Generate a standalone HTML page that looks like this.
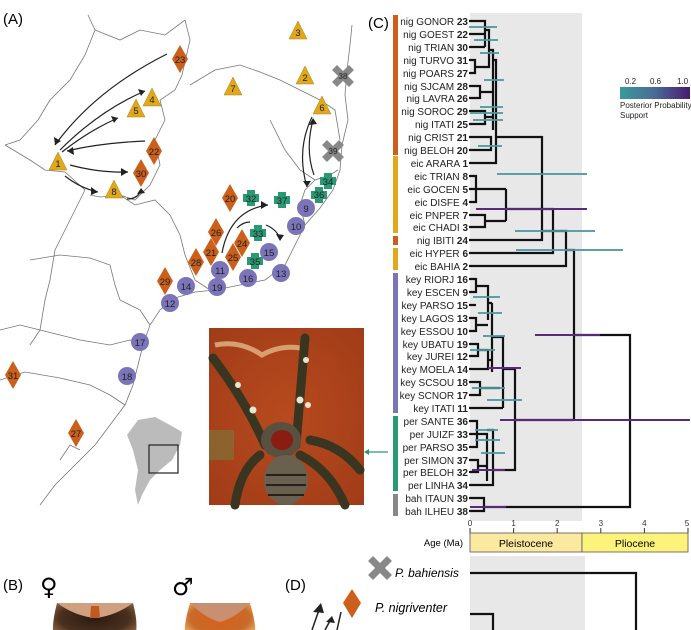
<!DOCTYPE html>
<html><head><meta charset="utf-8"><style>
body{margin:0;background:#fff}
svg{display:block;font-family:"Liberation Sans",sans-serif}
</style></head><body>
<svg width="691" height="630" viewBox="0 0 691 630" xmlns="http://www.w3.org/2000/svg">
<defs>
<linearGradient id="pp" x1="0" x2="1"><stop offset="0" stop-color="#3a9a9c"/><stop offset="0.5" stop-color="#4a6a96"/><stop offset="1" stop-color="#4a1a70"/></linearGradient>
<radialGradient id="fem" cx="0.5" cy="0.4" r="0.6"><stop offset="0" stop-color="#2a1a10"/><stop offset="0.7" stop-color="#4a3020"/><stop offset="1" stop-color="#8a6040"/></radialGradient>
<radialGradient id="mal" cx="0.5" cy="0.4" r="0.6"><stop offset="0" stop-color="#d8601a"/><stop offset="0.7" stop-color="#c86a2a"/><stop offset="1" stop-color="#e8a860"/></radialGradient>
<radialGradient id="soil" cx="0.5" cy="0.5" r="0.7"><stop offset="0" stop-color="#b84a1e"/><stop offset="1" stop-color="#a03c18"/></radialGradient>
</defs>

<!-- MAP -->
<text x="3" y="24" font-size="15">(A)</text>
<g fill="none" stroke="#777" stroke-width="0.8">
<path d="M352,25 L350,45 L347,70 L345,95 L348,120 L342,145 L340,170 L333,190 L320,208 L305,225 L295,245 L285,265 L265,280 L240,285 L215,290 L195,292 L175,298 L160,310 L150,325 L143,345 L138,365 L133,385 L125,405 L110,425 L95,445 L75,465 L55,485 L40,505"/>
<path d="M88,15 L95,30 L85,55 L70,80 L50,100 L38,120 L20,140 L5,145"/>
<path d="M95,30 L120,40 L140,30 L165,35 L185,20 L190,40 L182,75 L175,90 L160,100 L165,120 L155,140 L160,165 L150,185 L135,200 L120,195 L100,197 L90,195"/>
<path d="M5,145 L30,160 L45,170 L65,172 L85,190 L75,210 L65,230 L55,250 L50,280 L45,300 L40,330 L30,345"/>
<path d="M190,85 L215,70 L240,65 L260,72 L280,80 L300,90 L320,100 L335,110 L340,140"/>
<path d="M120,195 L135,205 L155,200 L170,215 L180,235 L185,255 L195,280 L210,290"/>
<path d="M30,260 L60,255 L90,258 L110,265 L115,285 L120,300 L140,310 L150,325"/>
<path d="M0,330 L20,325 L40,330 L60,335 L80,340 L110,345 L130,340 L140,345"/>
<path d="M0,380 L25,372 L60,378 L90,385 L110,395 L125,405"/>
<path d="M305,225 L300,205 L305,190 L315,180 L330,175 L338,170"/>
<path d="M270,120 L285,150 L300,170 L315,180"/>
<path d="M60,460 L70,445 L80,450"/>
</g>
<path d="M138,420 L155,417 L170,425 L182,432 L180,445 L172,460 L160,470 L150,480 L142,495 L138,505 L135,490 L138,470 L133,450 L127,435 Z" fill="#bbb"/>
<rect x="149" y="445" width="29" height="28" fill="none" stroke="#222" stroke-width="1.2"/>

<g fill="none" stroke="#222" stroke-width="1.2">
<path d="M167,54 Q95,90 55,145"/>
<path d="M60,150 Q100,110 145,91"/>
<path d="M62,152 Q90,130 118,118"/>
<path d="M145,141 Q100,143 67,151"/>
<path d="M70,165 Q100,173 128,172"/>
<path d="M65,176 Q80,188 98,192"/>
<path d="M127,199 Q138,199 141,190"/>
<path d="M312,117 Q296,150 307,187"/>
<path d="M313,120 Q305,150 314,175"/>
<path d="M222,253 Q230,210 268,205"/>
<path d="M237,228 Q243,222 250,222"/>
<path d="M266,225 Q278,230 280,240"/>
</g>
<g fill="#222">
<polygon points="55,145 54,137 61,141"/><polygon points="145,91 138,89 141,96"/><polygon points="118,118 111,116 114,123"/>
<polygon points="67,151 73,147 74,155"/><polygon points="128,172 121,168 121,176"/><polygon points="98,192 91,187 91,195"/>
<polygon points="141,188 137,194 145,193"/><polygon points="307,187 303,181 311,181"/><polygon points="313,118 309,125 317,124"/>
<polygon points="268,205 261,201 261,209"/><polygon points="280,241 276,234 284,235"/>
</g>

<g font-size="9.5" text-anchor="middle" fill="#222">
<g fill="#e0a81c" stroke="#b08010" stroke-width="0.5">
<polygon points="298,21 289,39 307,39"/><polygon points="305,66 296,84 314,84"/><polygon points="233,77 224,95 242,95"/>
<polygon points="152,88 143,106 161,106"/><polygon points="136,99 127,117 145,117"/><polygon points="322,96 313,114 331,114"/>
<polygon points="58,152 49,170 67,170"/><polygon points="114,180 105,198 123,198"/>
</g>
<text x="298" y="36">3</text><text x="305" y="81">2</text><text x="233" y="92">7</text><text x="152" y="103">4</text><text x="136" y="114">5</text><text x="322" y="111">6</text><text x="58" y="167">1</text><text x="114" y="195">8</text>
<g fill="#cc5f1a">
<polygon points="180,45 188,59 180,73 172,59"/><polygon points="154,137 162,151 154,165 146,151"/><polygon points="141,159 149,173 141,187 133,173"/>
<polygon points="230,184 238,198 230,212 222,198"/><polygon points="216,218 224,232 216,246 208,232"/><polygon points="211,238 219,252 211,266 203,252"/>
<polygon points="242,229 250,243 242,257 234,243"/><polygon points="233,243 241,257 233,271 225,257"/><polygon points="196,248 204,262 196,276 188,262"/>
<polygon points="165,267 173,281 165,295 157,281"/><polygon points="13,361 21,375 13,389 5,375"/><polygon points="76,419 84,433 76,447 68,433"/>
</g>
<text x="180" y="63">23</text><text x="154" y="155">22</text><text x="141" y="177">30</text><text x="230" y="202">20</text><text x="216" y="236">26</text><text x="211" y="256">21</text><text x="242" y="247">24</text><text x="233" y="261">25</text><text x="196" y="266">28</text><text x="165" y="285">29</text><text x="13" y="379">31</text><text x="76" y="437">27</text>
<g fill="#2a9a74">
<path d="M324,174h8v4h4v8h-4v4h-8v-4h-4v-8h4z" transform="translate(0,-1)"/>
<path d="M315,187h8v4h4v8h-4v4h-8v-4h-4v-8h4z"/>
<path d="M247,190h8v4h4v8h-4v4h-8v-4h-4v-8h4z"/>
<path d="M278,192h8v4h4v8h-4v4h-8v-4h-4v-8h4z"/>
<path d="M254,225h8v4h4v8h-4v4h-8v-4h-4v-8h4z"/>
<path d="M251,253h8v4h4v8h-4v4h-8v-4h-4v-8h4z"/>
</g>
<text x="328" y="185">34</text><text x="319" y="198">36</text><text x="251" y="202">32</text><text x="282" y="204">37</text><text x="258" y="237">33</text><text x="255" y="265">35</text>
<g fill="#7b74b8">
<circle cx="306" cy="208" r="9"/><circle cx="296" cy="226" r="9"/><circle cx="269" cy="252" r="9"/><circle cx="220" cy="270" r="9"/>
<circle cx="248" cy="278" r="9"/><circle cx="281" cy="273" r="9"/><circle cx="217" cy="287" r="9"/><circle cx="186" cy="286" r="9"/>
<circle cx="170" cy="303" r="9"/><circle cx="140" cy="342" r="9"/><circle cx="127" cy="376" r="9"/>
</g>
<text x="306" y="212">9</text><text x="296" y="230">10</text><text x="269" y="256">15</text><text x="220" y="274">11</text><text x="248" y="282">16</text><text x="281" y="277">13</text><text x="217" y="291">19</text><text x="186" y="290">14</text><text x="170" y="307">12</text><text x="140" y="346">17</text><text x="127" y="380">18</text>
<g stroke="#888" stroke-width="7" stroke-linecap="square"><path d="M337,70l12,12M349,70l-12,12M327,145l12,12M339,145l-12,12"/></g>
<text x="343" y="79" font-size="8">38</text><text x="333" y="154" font-size="8">39</text>
</g>

<!-- photo -->
<rect x="209" y="328" width="155" height="177" fill="url(#soil)"/>
<path d="M215,345 Q240,340 262,355 Q280,345 300,348" stroke="#d8a070" stroke-width="5" fill="none"/>
<rect x="209" y="430" width="25" height="30" fill="#7a7a3a" opacity="0.6"/>
<g stroke="#3a3520" stroke-width="9" fill="none" stroke-linecap="round">
<path d="M213,358 Q245,400 265,445"/><path d="M305,338 Q300,400 296,445"/>
<path d="M260,455 Q240,470 235,505"/><path d="M300,455 Q330,470 345,505"/><path d="M310,440 Q340,445 360,470"/>
</g>
<g fill="#e8e6d0"><circle cx="238" cy="385" r="3"/><circle cx="253" cy="410" r="3.5"/><circle cx="306" cy="360" r="3"/><circle cx="300" cy="400" r="3.5"/><circle cx="308" cy="405" r="3"/></g>
<ellipse cx="281" cy="440" rx="20" ry="18" fill="#5a5040"/>
<ellipse cx="282" cy="440" rx="11" ry="10" fill="#8a1c10"/>
<ellipse cx="286" cy="480" rx="22" ry="25" fill="#6a6050"/>
<path d="M266,475h40M266,485h40M268,495h36" stroke="#2a2018" stroke-width="2"/>
<path d="M388,452H366" stroke="#2a9a74" stroke-width="1.2"/><polygon points="364,452 369,449 369,455" fill="#2a9a74"/>

<!-- TREE -->
<rect x="470" y="13" width="112" height="508" fill="#e8e8e8"/>
<rect x="470" y="556" width="115" height="74" fill="#e8e8e8"/>
<text x="368" y="28" font-size="15">(C)</text>
<g>
<rect x="393" y="15" width="5" height="140" fill="#cc5f1a"/>
<rect x="393" y="156" width="5" height="77" fill="#e0a81c"/>
<rect x="393" y="236" width="5" height="9" fill="#cc5f1a"/>
<rect x="393" y="248" width="5" height="22" fill="#e0a81c"/>
<rect x="393" y="273" width="5" height="140" fill="#7b74b8"/>
<rect x="393" y="416" width="5" height="75" fill="#2a9a74"/>
<rect x="393" y="494" width="5" height="22" fill="#888"/>
</g>
<g font-size="10" text-anchor="end" fill="#222">
<text x="468" y="25">nig GONOR <tspan font-weight="bold">23</tspan></text>
<text x="468" y="38">nig GOEST <tspan font-weight="bold">22</tspan></text>
<text x="468" y="51">nig TRIAN <tspan font-weight="bold">30</tspan></text>
<text x="468" y="64">nig TURVO <tspan font-weight="bold">31</tspan></text>
<text x="468" y="77">nig POARS <tspan font-weight="bold">27</tspan></text>
<text x="468" y="90">nig SJCAM <tspan font-weight="bold">28</tspan></text>
<text x="468" y="102">nig LAVRA <tspan font-weight="bold">26</tspan></text>
<text x="468" y="115">nig SOROC <tspan font-weight="bold">29</tspan></text>
<text x="468" y="128">nig ITATI <tspan font-weight="bold">25</tspan></text>
<text x="468" y="141">nig CRIST <tspan font-weight="bold">21</tspan></text>
<text x="468" y="154">nig BELOH <tspan font-weight="bold">20</tspan></text>
<text x="468" y="167">eic ARARA <tspan font-weight="bold">1</tspan></text>
<text x="468" y="180">eic TRIAN <tspan font-weight="bold">8</tspan></text>
<text x="468" y="193">eic GOCEN <tspan font-weight="bold">5</tspan></text>
<text x="468" y="206">eic DISFE <tspan font-weight="bold">4</tspan></text>
<text x="468" y="219">eic PNPER <tspan font-weight="bold">7</tspan></text>
<text x="468" y="231">eic CHADI <tspan font-weight="bold">3</tspan></text>
<text x="468" y="244">nig IBITI <tspan font-weight="bold">24</tspan></text>
<text x="468" y="257">eic HYPER <tspan font-weight="bold">6</tspan></text>
<text x="468" y="270">eic BAHIA <tspan font-weight="bold">2</tspan></text>
<text x="468" y="283">key RIORJ <tspan font-weight="bold">16</tspan></text>
<text x="468" y="296">key ESCEN <tspan font-weight="bold">9</tspan></text>
<text x="468" y="309">key PARSO <tspan font-weight="bold">15</tspan></text>
<text x="468" y="322">key LAGOS <tspan font-weight="bold">13</tspan></text>
<text x="468" y="335">key ESSOU <tspan font-weight="bold">10</tspan></text>
<text x="468" y="348">key UBATU <tspan font-weight="bold">19</tspan></text>
<text x="468" y="360">key JUREI  <tspan font-weight="bold">12</tspan></text>
<text x="468" y="373">key MOELA <tspan font-weight="bold">14</tspan></text>
<text x="468" y="386">key SCSOU <tspan font-weight="bold">18</tspan></text>
<text x="468" y="399">key SCNOR <tspan font-weight="bold">17</tspan></text>
<text x="468" y="412">key ITATI  <tspan font-weight="bold">11</tspan></text>
<text x="468" y="425">per SANTE <tspan font-weight="bold">36</tspan></text>
<text x="468" y="438">per JUIZF <tspan font-weight="bold">33</tspan></text>
<text x="468" y="451">per PARSO <tspan font-weight="bold">35</tspan></text>
<text x="468" y="464">per SIMON <tspan font-weight="bold">37</tspan></text>
<text x="468" y="476">per BELOH <tspan font-weight="bold">32</tspan></text>
<text x="468" y="489">per LINHA <tspan font-weight="bold">34</tspan></text>
<text x="468" y="502">bah ITAUN <tspan font-weight="bold">39</tspan></text>
<text x="468" y="515">bah ILHEU <tspan font-weight="bold">38</tspan></text>
</g>
<g fill="none" stroke="#111" stroke-width="2.2">
<path d="M469,21H485V47M469,34H485M469,47H485M469,60H475V73H469M475,67H489V30H485"/>
<path d="M469,86H480V98H469M480,92H492M469,111H485V124H469M485,117H492M469,137H491V150H469"/>
<path d="M489,50H493V130M492,92H493M469,163H496V60H493"/>
<path d="M496,137H542V240H469"/>
<path d="M469,176H476V202H469M469,189H476M476,189H506M469,215H485V227H469M485,221H506M506,189V221M506,209H553V253H469"/>
<path d="M542,231H566V266H469M566,250H574V420"/>
<path d="M469,279H476V292H469M469,305H476M476,286H488V320M469,318H476V331H469M476,325H488M488,303H492"/>
<path d="M469,344H478V356H469M478,350H488V369H469M492,303V372M488,360H492"/>
<path d="M469,382H480V395H469M480,388H500M469,408H503M492,337H503V408"/>
<path d="M469,421H477V447H469M469,434H477M477,434H487V481M469,460H478V472H469M478,466H487M469,485H493V430H487"/>
<path d="M503,369H515V470H493M515,420H574M574,335H630V507H484M469,498H484V511H469"/>
</g>
<g stroke-width="2" stroke="#4a9aa0" opacity="0.9">
<path d="M469,27H497M474,40H498M480,53H499M484,80H504M480,107H503M470,113H503M473,120H503M478,146H502"/>
<path d="M497,174H587M515,231H595M516,250H623"/>
<path d="M473,297H500M478,313H502M483,336H505M470,350H495M472,388H505M487,400H522"/>
<path d="M475,430H498M475,440H500M481,453H505"/>
</g>
<g stroke-width="2" stroke="#5a2a7a">
<path d="M476,209H587M488,368H521M535,335H600M500,420H690M472,470H505M470,507H506"/>
</g>
<g font-size="8" fill="#222">
<text x="625" y="84">0.2</text><text x="650" y="84">0.6</text><text x="677" y="84">1.0</text>
<rect x="620" y="87" width="70" height="12" fill="url(#pp)"/>
<text x="620" y="108">Posterior Probability</text><text x="620" y="118">Support</text>
</g>
<g font-size="8" fill="#333" text-anchor="middle">
<path d="M470,533V528M513.6,533V528M557.2,533V528M600.8,533V528M644.4,533V528M688,533V528" stroke="#333"/>
<text x="470" y="526">0</text><text x="513.6" y="526">1</text><text x="557.2" y="526">2</text><text x="600.8" y="526">3</text><text x="644.4" y="526">4</text><text x="687" y="526">5</text>
</g>
<rect x="470" y="533" width="112" height="19" fill="#fbe9a0" stroke="#555" stroke-width="0.8"/>
<rect x="582" y="533" width="106" height="19" fill="#fdf37a" stroke="#555" stroke-width="0.8"/>
<text x="526" y="547" font-size="10.5" text-anchor="middle">Pleistocene</text>
<text x="635" y="547" font-size="10.5" text-anchor="middle">Pliocene</text>
<text x="463" y="546" font-size="9.5" text-anchor="end">Age (Ma)</text>

<!-- B -->
<text x="3" y="590" font-size="15">(B)</text>
<text x="40" y="595" font-size="24" font-family="DejaVu Sans" font-weight="bold">♀</text>
<text x="172" y="595" font-size="24" font-family="DejaVu Sans" font-weight="bold">♂</text>
<path d="M57,603 Q50,630 55,640 L133,640 Q140,630 133,603 Z" fill="url(#fem)"/>
<path d="M57,603 L133,603 Q115,616 95,618 Q75,616 57,603Z" fill="#d0a080"/>
<path d="M91,606 L99,606 L100,618 L90,618 Z" fill="#c05a20"/>
<path d="M190,603 Q182,630 186,640 L254,640 Q258,630 250,603 Z" fill="url(#mal)"/>
<path d="M190,603 L250,603 Q235,618 220,622 Q205,618 190,603Z" fill="#c89070"/>

<!-- D -->
<text x="285" y="590" font-size="15">(D)</text>
<path d="M373,561l14,14M387,561l-14,14" stroke="#888" stroke-width="7" stroke-linecap="square"/>
<text x="395" y="577" font-size="12" font-style="italic">P. bahiensis</text>
<path d="M470,573H636V630M470,614H493V630" stroke="#111" stroke-width="2.2" fill="none"/>
<polygon points="352,589 361,603 352,618 343,603" fill="#cc5f1a"/>
<text x="375" y="612" font-size="12.5" font-style="italic">P. nigriventer</text>
<g stroke="#222" stroke-width="1.5" fill="none"><path d="M312,630L320,607M325,630L331,619M337,630L341,612"/></g>
<g fill="#222"><polygon points="321,603 313,612 324,613"/><polygon points="332,616 326,622 335,623"/></g>
</svg>
</body></html>
